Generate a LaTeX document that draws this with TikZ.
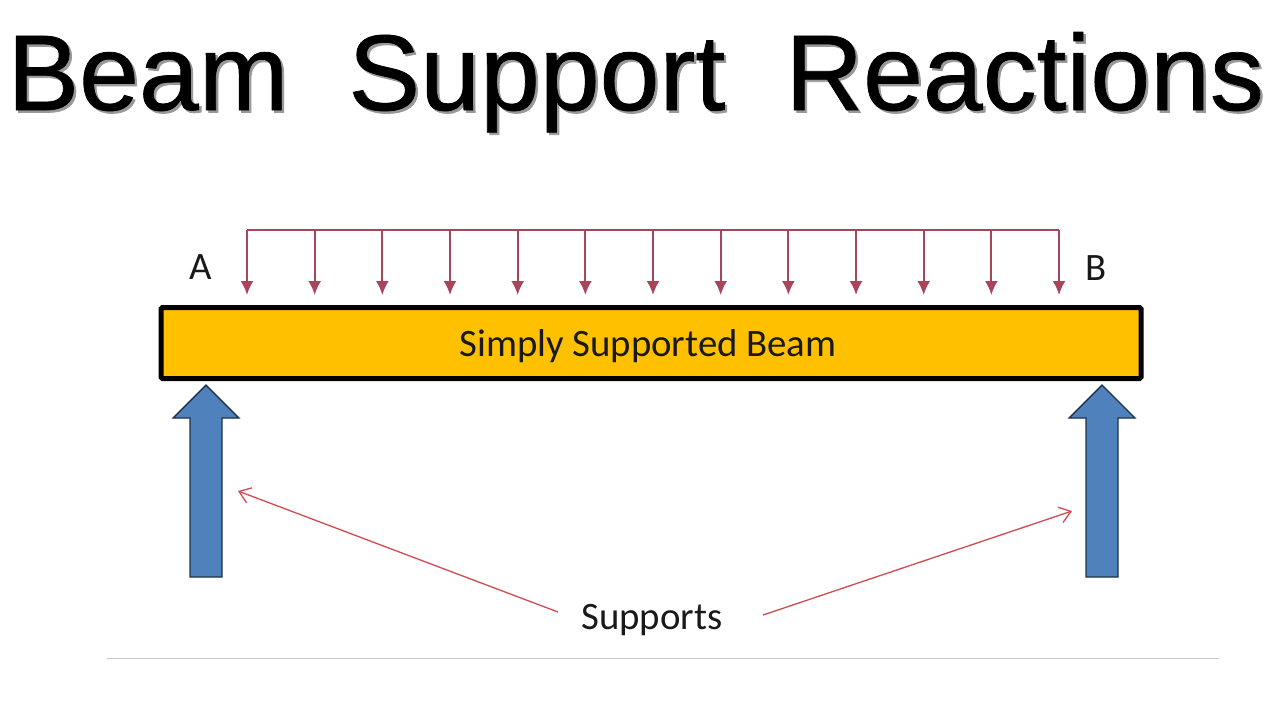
\documentclass[tikz,border=0pt]{standalone}
\usepackage{fontspec}
\setmainfont{Carlito}
\newfontfamily\titlefont[FakeBold=0.7]{Liberation Sans}
\definecolor{gold}{HTML}{FFC000}
\definecolor{steel}{HTML}{4F81BD}
\definecolor{navy}{HTML}{1D3349}
\definecolor{berry}{HTML}{A8445C}
\definecolor{pred}{HTML}{CF4B50}
\usetikzlibrary{arrows.meta}
\newcommand{\shadedword}[1]{\rlap{\kern1.2pt\raisebox{-1.2pt}{\color{black!40}#1}}#1}
\tikzset{
	titleword/.style={font=\titlefont\fontsize{53.8}{54}\selectfont, text=black, inner sep=0pt, anchor=base west},
	beam/.style={draw=black, line width=2.5pt, fill=gold, rounded corners=0.7pt, minimum width=490pt, minimum height=35.5pt, inner sep=0pt},
	label/.style={inner sep=0pt, font=\fontsize{19.4}{21}\selectfont, text=black!90},
	load/.style={draw=berry, line width=1.1pt},
	loadarrow/.style={load, -{Latex[length=7pt,width=6.5pt]}},
	support/.style={draw=navy, line width=0.7pt, fill=steel, line join=miter},
	pointer/.style={draw=pred, line width=0.65pt, -{Straight Barb[length=5.5pt,width=8pt]}}
}
\begin{document}
\begin{tikzpicture}[x=0.5pt,y=-0.5pt]
		\useasboundingbox (0,0) rectangle (1280,720);
		% heading
		\foreach \i/\xx in {Beam/7, Support/348, Reactions/785}{
			\node[titleword] (word\i) at (\xx,110) {\shadedword{\i}};
		}
		% distributed load
		\coordinate (loadstart) at (247,230);
		\coordinate (loadend) at (1059,230);
		\draw[load] (loadstart) -- (loadend);
		\foreach \ii in {0,...,12}{
			\coordinate (top\ii) at (247+\ii*67.67,230);
			\coordinate (tip\ii) at (247+\ii*67.67,295);
			\draw[loadarrow] (top\ii) -- (tip\ii);
		}
		\node[label] (labelA) at (201,267) {A};
		\node[label] (labelB) at (1096,268) {B};
		% beam
		\node[beam] (mainbeam) at (651,343) {};
		\node[label] (beamlabel) at (648,346) {Simply Supported Beam};
		% supports
		\foreach \i/\xx in {left/206, right/1102}{
			\draw[support] (\xx,385) -- (\xx+33,418) -- (\xx+16,418) -- (\xx+16,577)
			-- (\xx-16,577) -- (\xx-16,418) -- (\xx-33,418) -- cycle;
		}
		\node[label] (supports) at (652,620) {Supports};
		\coordinate (leftaim) at (238,491);
		\coordinate (rightaim) at (1072,511);
		\coordinate (leftstart) at (558,612);
		\coordinate (rightstart) at (763,615);
		\draw[pointer] (leftstart) -- (leftaim);
		\draw[pointer] (rightstart) -- (rightaim);
		% rule under the figure
		\coordinate (rulestart) at (107,658);
		\coordinate (ruleend) at (1219,658);
		\draw[black!22, line width=0.5pt] (rulestart) -- (ruleend);
		\end{tikzpicture}
\end{document}
